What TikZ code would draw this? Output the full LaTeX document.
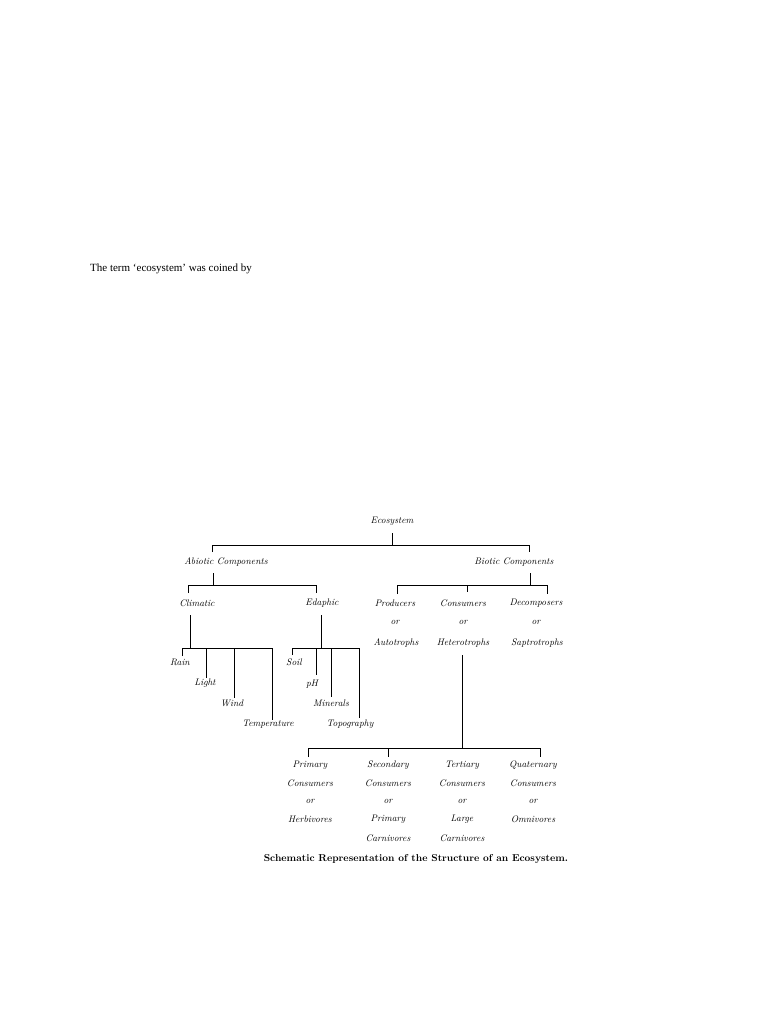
\documentclass[tikz,border=0pt]{standalone}
\usepackage{fontspec}
\newfontfamily\timesf{Liberation Serif}
\begin{document}
\begin{tikzpicture}[x=1pt,y=-1pt,
  lab/.style={font=\fontsize{9.5}{11}\selectfont\itshape,inner sep=0pt,anchor=center},
  ln/.style={line width=0.9pt}]
\useasboundingbox (0,0) rectangle (768,1024);
\node[font=\timesf\fontsize{11}{13}\selectfont,anchor=west,inner sep=0pt] (top) at (90,269) {The term ‘ecosystem’ was coined by};
\node[lab] (eco) at (392,521) {Ecosystem};
\node[lab] (abi) at (226,562) {Abiotic Components};
\node[lab] (bio) at (514,562) {Biotic Components};
\draw[ln] (392,533) -- (392,545);
\draw[ln] (212,552) -- (212,545) -- (529,545) -- (529,552);
% abiotic
\node[lab] (cli) at (197,603) {Climatic};
\node[lab] (eda) at (322,603) {Edaphic};
\draw[ln] (213,573) -- (213,585);
\draw[ln] (188,593) -- (188,585) -- (316,585) -- (316,593);
% biotic
\draw[ln] (530,573) -- (530,585);
\draw[ln] (397,594) -- (397,585) -- (547,585) -- (547,594);
\draw[ln] (467,585) -- (467,592);
\node[lab] (pro) at (395,603) {Producers};
\node[lab] at (395,622) {or};
\node[lab] at (396,643) {Autotrophs};
\node[lab] (con) at (463,603) {Consumers};
\node[lab] at (463,622) {or};
\node[lab] (het) at (463,643) {Heterotrophs};
\node[lab] (dec) at (536,603) {Decomposers};
\node[lab] at (536,622) {or};
\node[lab] at (537,643) {Saptrotrophs};
% climatic
\draw[ln] (190,615) -- (190,648);
\draw[ln] (182,656) -- (182,648) -- (272,648) -- (272,720);
\draw[ln] (206,648) -- (206,678);
\draw[ln] (234,648) -- (234,698);
\node[lab] at (180,662) {Rain};
\node[lab] at (205,683) {Light};
\node[lab] at (232,703) {Wind};
\node[lab] at (268,724) {Temperature};
% edaphic
\draw[ln] (321,615) -- (321,648);
\draw[ln] (292,655) -- (292,648) -- (359,648) -- (359,718);
\draw[ln] (316,648) -- (316,675);
\draw[ln] (331,648) -- (331,697);
\node[lab] at (294,662) {Soil};
\node[lab] at (312,684) {pH};
\node[lab] at (331,703) {Minerals};
\node[lab] at (350,724) {Topography};
% consumers
\draw[ln] (462,655) -- (462,748);
\draw[ln] (308,757) -- (308,748) -- (540,748) -- (540,757);
\draw[ln] (388,748) -- (388,757);
\foreach \x/\a/\b/\c/\d in {310/Primary/Consumers/or/Herbivores,388/Secondary/Consumers/or/Primary,462/Tertiary/Consumers/or/Large,533/Quaternary/Consumers/or/Omnivores}{
  \node[lab] at (\x,765) {\a};
  \node[lab] at (\x,783) {\b};
  \node[lab] at (\x,801) {\c};
  \node[lab] at (\x,819) {\d};
}
\node[lab] at (388,838) {Carnivores};
\node[lab] at (462,838) {Carnivores};
\node[font=\fontsize{10}{12}\selectfont\bfseries,inner sep=0pt] (cap) at (416,859) {Schematic Representation of the Structure of an Ecosystem.};
\end{tikzpicture}
\end{document}
